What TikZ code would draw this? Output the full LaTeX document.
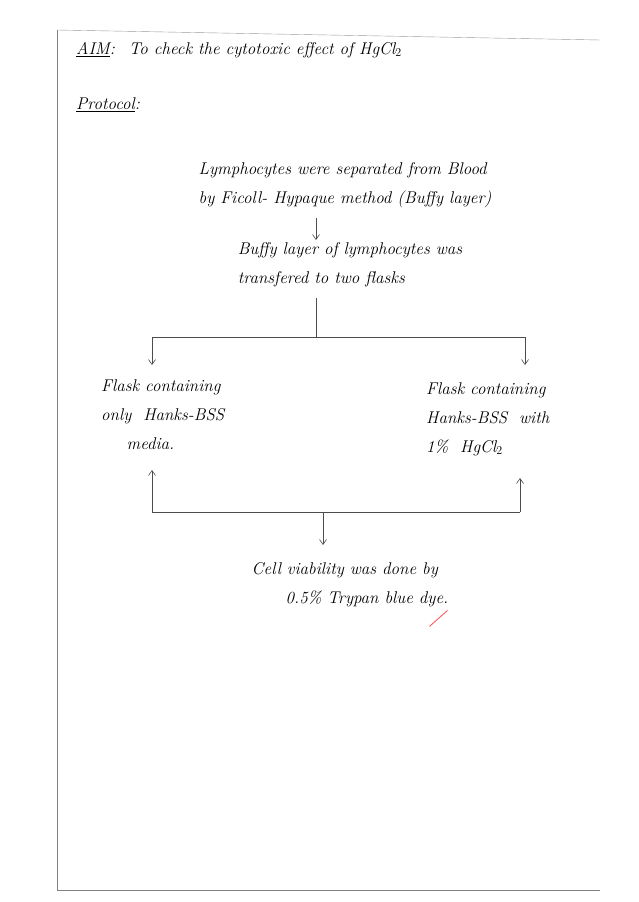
\documentclass[tikz,border=0pt]{standalone}
\usepackage{tikz}
\usetikzlibrary{positioning,arrows.meta}
\begin{document}
\begin{tikzpicture}[x=1pt,y=-1pt,
    txt/.style={font=\fontsize{17}{29}\selectfont\itshape, inner sep=1pt},
    hand/.style={draw=black!70, line width=0.6pt},
    arr/.style={hand, -{Straight Barb[length=5pt,width=7pt]}}
]
\useasboundingbox (0,0) rectangle (638,902);

% page frame
\draw[black!50] (57,30) -- (57,890) -- (600,890);
\draw[black!40] (57,30) -- (600,40);

% heading
\node[txt, anchor=west] (aim) at (75,50) {\underline{AIM}: \ To check the cytotoxic effect of HgCl$_2$};
\node[txt, anchor=west] (prot) at (75,105) {\underline{Protocol}:};

% first step
\node[txt, align=left] (sep) at (345,185) {Lymphocytes were separated from Blood\\by Ficoll- Hypaque method (Buffy layer)};
\node[txt, align=left] (buffy) at (350,265) {Buffy layer of lymphocytes was\\transfered to two flasks};
\draw[arr] (316,218) -- (316,240);

% split
\coordinate (top) at (316,298);
\coordinate (mid) at (316,337);
\coordinate (midL) at (152,337);
\coordinate (midR) at (525,337);
\draw[hand] (top) -- (mid);
\draw[hand] (midL) -- (midR);

\node[txt, align=left, anchor=north west] (flaskA) at (100,378) {Flask containing\\only \ Hanks-BSS\\\hspace{1.5em}media.};
\node[txt, align=left, anchor=north west] (flaskB) at (425,381) {Flask containing\\Hanks-BSS \ with\\1\% \ HgCl$_2$};
\draw[arr] (midL) -- (152,365);
\draw[arr] (midR) -- (525,365);

% merge
\coordinate (botL) at (152,512);
\coordinate (botR) at (520,512);
\coordinate (botM) at (323,512);
\draw[hand] (botL) -- (botR);
\draw[arr] (botL) -- (152,470);
\draw[arr] (botR) -- (520,478);
\draw[arr] (botM) -- (323,545);

\node[txt, align=left] (cell) at (350,585) {Cell viability was done by\\\hspace{2em}0.5\% Trypan blue dye.};
\draw[red!70, line width=0.8pt] (cell.south east) ++(-2,2) -- ++(-18,16);
\end{tikzpicture}
\end{document}
